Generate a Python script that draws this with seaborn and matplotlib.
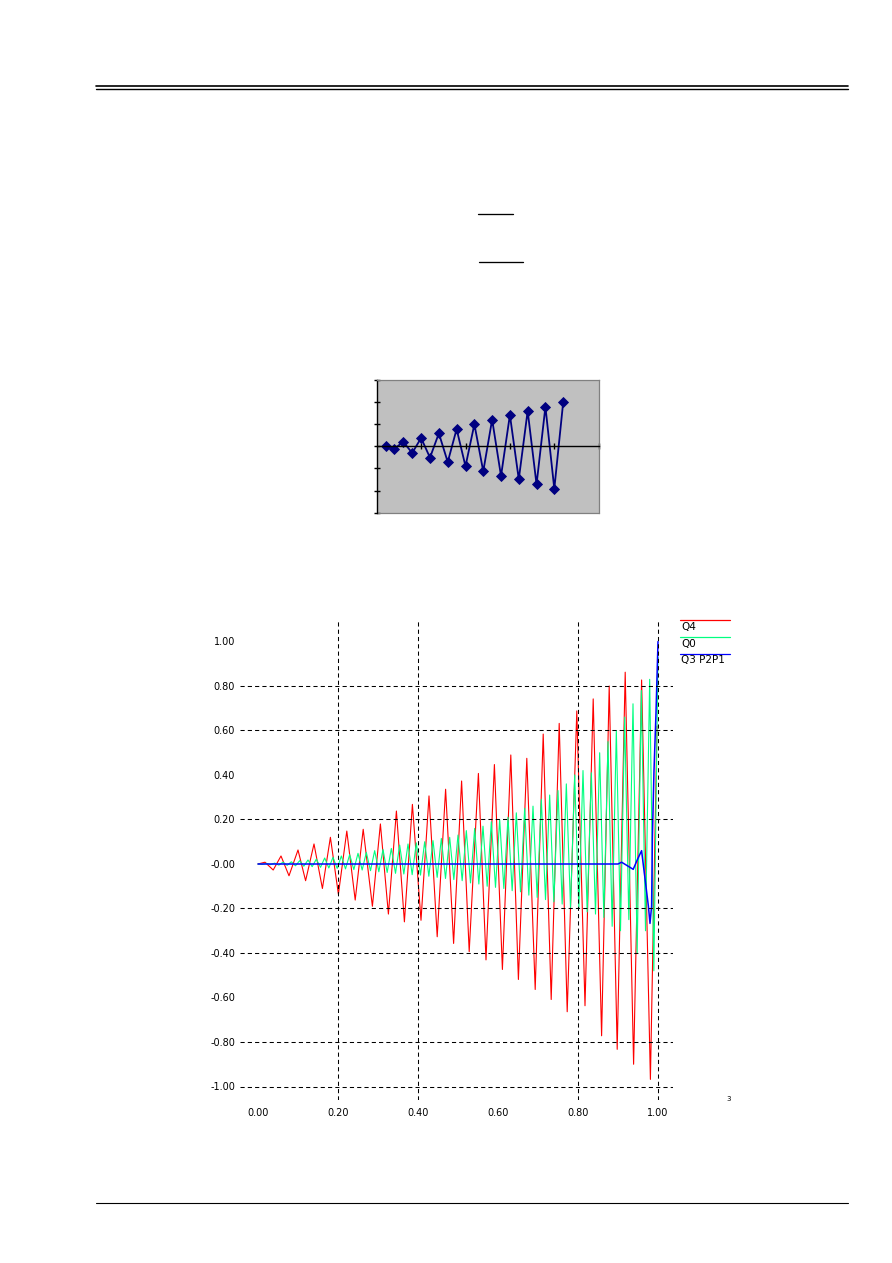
import numpy as np
import matplotlib
matplotlib.use("Agg")
import matplotlib.pyplot as plt
import seaborn as sns
from matplotlib.lines import Line2D

sns.set_style("white")
plt.rcParams['font.family'] = ['DejaVu Sans']
plt.rcParams['text.color'] = 'black'
plt.rcParams['xtick.labelcolor'] = 'black'
plt.rcParams['ytick.labelcolor'] = 'black'

W, H = 892, 1263

# ---------------- small chart data ----------------
small_x = list(range(1, 22))
small_y = [0.0, -0.1, 0.2, -0.3, 0.38, -0.51, 0.59, -0.71, 0.78, -0.9, 1.0,
           -1.13, 1.21, -1.34, 1.42, -1.49, 1.6, -1.72, 1.79, -1.92, 1.99]
small_xticks = [5, 10, 15, 20, 25]
small_yticks = [-3, -2, -1, 0, 1, 2, 3]

# ---------------- big chart data ----------------
q4_x = [0.0, 0.0175, 0.038, 0.0575, 0.0775, 0.1, 0.119, 0.14, 0.161, 0.181,
        0.201, 0.222, 0.243, 0.263, 0.286, 0.306, 0.326, 0.346, 0.366, 0.386,
        0.4075, 0.4275, 0.448, 0.469, 0.489, 0.509, 0.528, 0.551, 0.57, 0.591,
        0.611, 0.632, 0.651, 0.672, 0.693, 0.713, 0.733, 0.753, 0.773, 0.797,
        0.8175, 0.838, 0.859, 0.878, 0.898, 0.918, 0.939, 0.959, 0.981, 0.9975]
q4_y = [0.0, 0.008, -0.027, 0.036, -0.053, 0.063, -0.075, 0.09, -0.11, 0.12,
        -0.136, 0.148, -0.162, 0.156, -0.19, 0.18, -0.225, 0.238, -0.26, 0.268,
        -0.253, 0.306, -0.327, 0.336, -0.357, 0.373, -0.394, 0.407, -0.431, 0.447,
        -0.474, 0.49, -0.519, 0.475, -0.564, 0.584, -0.609, 0.632, -0.664, 0.688,
        -0.637, 0.742, -0.772, 0.80, -0.833, 0.862, -0.90, 0.827, -0.968, 0.62]

q0_y = [0.0, -0.002, 0.003, -0.003, 0.004, -0.005, 0.008, -0.006, 0.01, -0.008,
        0.015, -0.01, 0.018, -0.012, 0.022, -0.015, 0.027, -0.018, 0.03, -0.02,
        0.036, -0.022, 0.042, -0.025, 0.048, -0.027, 0.052, -0.03, 0.06, -0.035,
        0.065, -0.038, 0.07, -0.042, 0.085, -0.045, 0.09, -0.048, 0.095, -0.05,
        0.1, -0.055, 0.105, -0.06, 0.115, -0.065, 0.12, -0.07, 0.13, -0.075,
        0.15, -0.085, 0.16, -0.09, 0.17, -0.1, 0.19, -0.105, 0.2, -0.11,
        0.21, -0.12, 0.23, -0.125, 0.25, -0.14, 0.26, -0.15, 0.29, -0.16,
        0.31, -0.17, 0.33, -0.18, 0.36, -0.195, 0.4, -0.2, 0.42, -0.215,
        0.41, -0.225, 0.5, -0.24, 0.55, -0.28, 0.6, -0.3, 0.66, -0.25,
        0.72, -0.4, 0.78, -0.3, 0.83, -0.48, 0.93]
q0_x = np.linspace(0.0, 1.0, len(q0_y))

q3_x = [0.0, 0.9, 0.909, 0.93, 0.938, 0.948, 0.959, 0.963, 0.969, 0.976,
        0.98, 0.984, 0.986, 0.99, 0.995, 1.0]
q3_y = [0.0, 0.0, 0.008, -0.015, -0.024, 0.018, 0.06, 0.0, -0.087, -0.19,
        -0.267, -0.19, 0.12, 0.42, 0.68, 1.0]

y_ticks = [1.0, 0.8, 0.6, 0.4, 0.2, 0.0, -0.2, -0.4, -0.6, -0.8, -1.0]
y_labels = ["1.00", "0.80", "0.60", "0.40", "0.20", "-0.00", "-0.20",
            "-0.40", "-0.60", "-0.80", "-1.00"]
x_ticks = [0.0, 0.2, 0.4, 0.6, 0.8, 1.0]
x_labels = ["0.00", "0.20", "0.40", "0.60", "0.80", "1.00"]
hgrid = [0.8, 0.6, 0.2, -0.2, -0.4, -0.8, -1.0]
vgrid = [0.2, 0.4, 0.8, 1.0]
series_labels = ["Q4", "Q0", "Q3 P2P1"]
series_colors = ["#FF0000", "#00FF80", "#0000FF"]


def fx(px):
    return px / W


def fy(py):
    return 1 - py / H


fig = plt.figure(figsize=(W / 100, H / 100), dpi=100)

# page decorations
fig.add_artist(Line2D([fx(96), fx(848)], [fy(85.5), fy(85.5)], color="black", lw=1.2))
fig.add_artist(Line2D([fx(96), fx(848)], [fy(88.5), fy(88.5)], color="black", lw=1.0))
fig.add_artist(Line2D([fx(96), fx(848)], [fy(1203), fy(1203)], color="black", lw=0.8))
fig.add_artist(Line2D([fx(478.3), fx(512.7)], [fy(214.3), fy(214.3)], color="black", lw=0.95))
fig.add_artist(Line2D([fx(479), fx(522.7)], [fy(262), fy(262)], color="black", lw=0.95))

# ---------------- small chart ----------------
ax2 = fig.add_axes([fx(376.7), fy(512.7), (598.7 - 376.7) / W, (512.7 - 380) / H])
ax2.set_facecolor("#C0C0C0")
sns.lineplot(x=small_x, y=small_y, ax=ax2, color="#000080", lw=1.3,
             marker="D", markersize=4.6, markeredgecolor="#000080",
             markeredgewidth=0.6, sort=False)
ax2.set_xlim(0, 25)
ax2.set_ylim(-3, 3)
ax2.set_xticks(small_xticks)
ax2.set_xticklabels([])
ax2.set_yticks(small_yticks)
ax2.set_yticklabels([])
for s in ["top", "right"]:
    ax2.spines[s].set_color("#808080")
    ax2.spines[s].set_linewidth(0.9)
ax2.spines["left"].set_color("black")
ax2.spines["left"].set_linewidth(1.0)
ax2.spines["bottom"].set_position(("data", 0))
ax2.spines["bottom"].set_color("black")
ax2.spines["bottom"].set_linewidth(1.0)
ax2.axhline(-3, color="#808080", lw=0.9, clip_on=False)
ax2.tick_params(axis="both", direction="inout", length=5, width=1.0,
                color="black", bottom=True, left=True)
ax2.set_xlabel("")
ax2.set_ylabel("")

# ---------------- big chart ----------------
ax = fig.add_axes([fx(240), fy(1100), (673 - 240) / W, (1100 - 620) / H])
ax.set_xlim((240 - 258) / 400, (673 - 258) / 400)
ax.set_ylim((864 - 1100) / 222.5, (864 - 620) / 222.5)

sns.lineplot(x=q4_x, y=q4_y, ax=ax, color=series_colors[0], lw=0.8, sort=False, zorder=2)
sns.lineplot(x=q0_x, y=q0_y, ax=ax, color=series_colors[1], lw=0.8, sort=False, zorder=2)
sns.lineplot(x=q3_x, y=q3_y, ax=ax, color=series_colors[2], lw=1.1, sort=False, zorder=3)

for g in hgrid:
    ax.axhline(g, color="black", lw=0.75, linestyle=(0, (4, 3)), zorder=4)
for g in vgrid:
    ax.axvline(g, color="black", lw=0.75, linestyle=(0, (4, 3)), zorder=4)

ax.set_yticks(y_ticks)
ax.set_yticklabels(y_labels, fontsize=7)
ax.set_xticks(x_ticks)
ax.set_xticklabels(x_labels, fontsize=7)
ax.tick_params(axis="y", length=0, pad=3.5, labelcolor="black")
ax.tick_params(axis="x", length=0, pad=6, labelcolor="black")
for s in ax.spines.values():
    s.set_visible(False)
ax.set_xlabel("")
ax.set_ylabel("")

# legend (line above label)
for lab, col, yl, yt in zip(series_labels, series_colors, [620.3, 637.3, 654], [622, 638.5, 655.5]):
    fig.add_artist(Line2D([fx(680), fx(730)], [fy(yl), fy(yl)], color=col, lw=0.9))
    fig.text(fx(681), fy(yt), lab, fontsize=7.5, ha="left", va="top", color="black")

fig.text(fx(729), fy(1099), "3", fontsize=5, ha="center", va="center", color="black")

fig.savefig("out.png", dpi=100)
